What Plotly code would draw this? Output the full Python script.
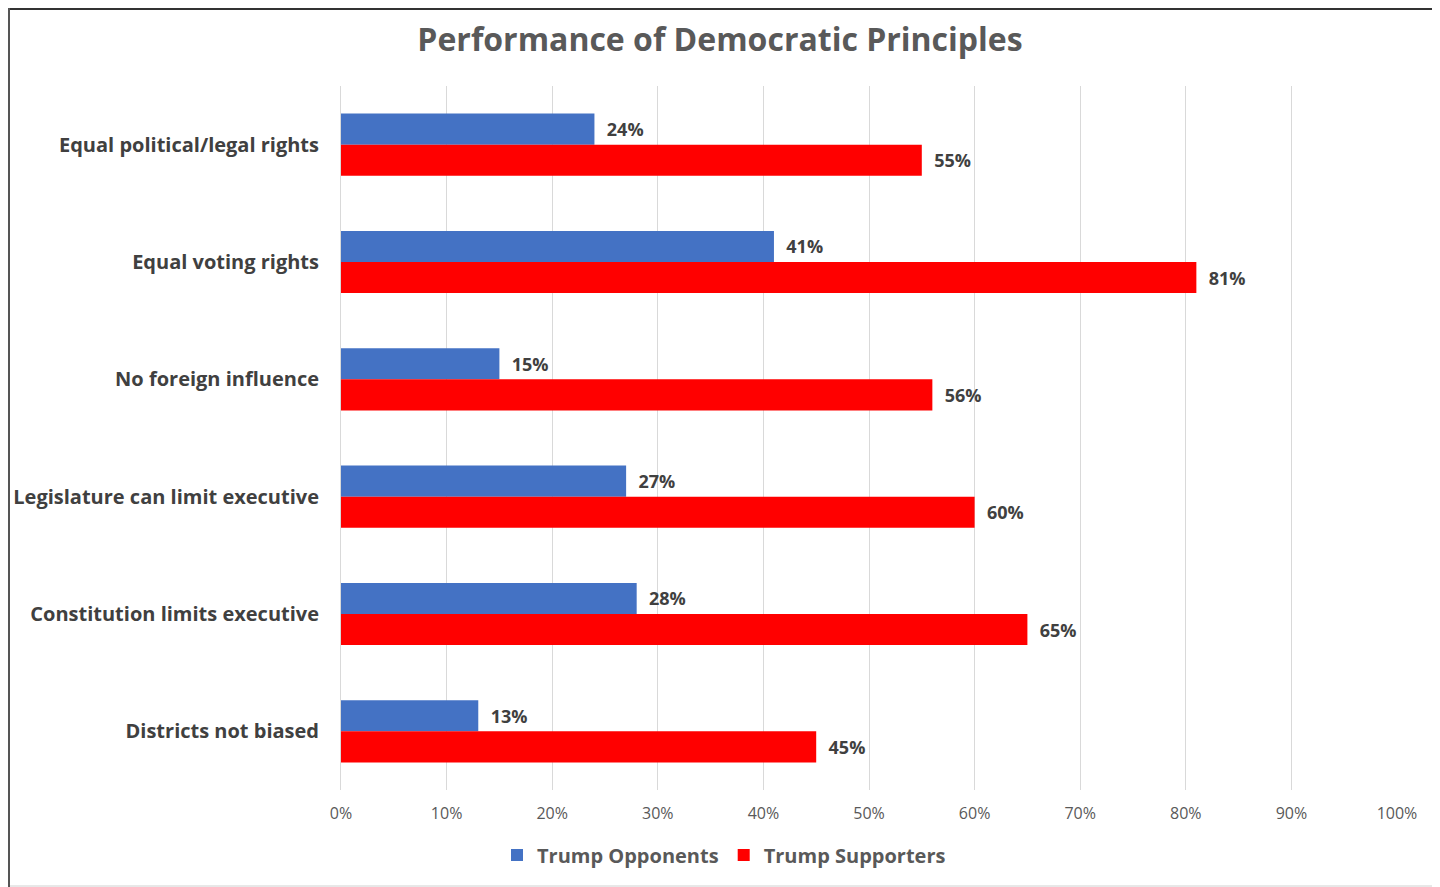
import plotly.graph_objects as go

categories = [
    "Equal political/legal rights",
    "Equal voting rights",
    "No foreign influence",
    "Legislature can limit executive",
    "Constitution limits executive",
    "Districts not biased",
]
opponents = [24, 41, 15, 27, 28, 13]
supporters = [55, 81, 56, 60, 65, 45]
tick_vals = [0, 10, 20, 30, 40, 50, 60, 70, 80, 90, 100]
tick_text = ["%d%%" % v for v in tick_vals]

FONT = "Open Sans"

# the page is drawn with the browser's 8px body margin, so shift everything back
OFF = 8
L, R, T, B = 341 - OFF, 1440 - 1397 + OFF, 86 - OFF, 887 - 790 + OFF
PW, PH = 1440 - L - R, 887 - T - B

fig = go.Figure()

for name, vals, color in [
    ("Trump Opponents", opponents, "#4472c4"),
    ("Trump Supporters", supporters, "#ff0000"),
]:
    fig.add_trace(
        go.Bar(
            y=categories,
            x=vals,
            orientation="h",
            name=name,
            marker=dict(color=color, line=dict(width=0)),
            text=["  %d%%" % v for v in vals],
            textposition="outside",
            textfont=dict(family=FONT, size=18, color="#404040", weight="bold"),
            cliponaxis=False,
        )
    )

fig.update_layout(
    width=1440,
    height=887,
    paper_bgcolor="white",
    plot_bgcolor="white",
    barmode="group",
    bargap=0.47,
    bargroupgap=0,
    margin=dict(l=L, r=R, t=T, b=B, autoexpand=False),
    title=dict(
        text="<b>Performance of Democratic Principles</b>",
        x=(720 - OFF) / 1440,
        xanchor="center",
        y=1 - (40 - OFF) / 887,
        yanchor="middle",
        font=dict(family=FONT, size=32, color="#595959"),
    ),
    showlegend=True,
    legend=dict(
        orientation="h",
        x=(724 - L - OFF) / PW,
        xanchor="center",
        y=-(855 - 790) / PH,
        yanchor="middle",
        font=dict(family=FONT, size=20, color="#595959", weight="bold"),
        itemwidth=30,
        traceorder="normal",
    ),
    xaxis=dict(
        range=[0, 100],
        tickvals=tick_vals,
        ticktext=tick_text,
        showgrid=True,
        gridcolor="#d9d9d9",
        gridwidth=1,
        zeroline=False,
        showline=False,
        ticks="",
        automargin=False,
        tickfont=dict(family=FONT, size=16, color="#595959"),
        ticklabelstandoff=12,
    ),
    yaxis=dict(
        autorange="reversed",
        showgrid=False,
        zeroline=False,
        showline=True,
        linecolor="#d9d9d9",
        linewidth=1,
        ticks="",
        automargin=False,
        tickfont=dict(family=FONT, size=20, color="#404040", weight="bold"),
        ticklabelstandoff=17,
    ),
    shapes=[
        dict(type="rect", xref="paper", yref="paper", x0=-L / PW, x1=1 + (R - 9) / PW,
             y0=-(B - 9) / PH, y1=1 + T / PH, line=dict(color="#d0d0d0", width=1)),
        dict(type="line", xref="paper", yref="paper", x0=-L / PW, x1=1 + R / PW,
             y0=1 + (T - 1) / PH, y1=1 + (T - 1) / PH, line=dict(color="#333333", width=2)),
        dict(type="line", xref="paper", yref="paper", x0=-(L - 1) / PW, x1=-(L - 1) / PW,
             y0=-B / PH, y1=1 + T / PH, line=dict(color="#555555", width=2)),
    ],
)

fig.write_html("out.html")
